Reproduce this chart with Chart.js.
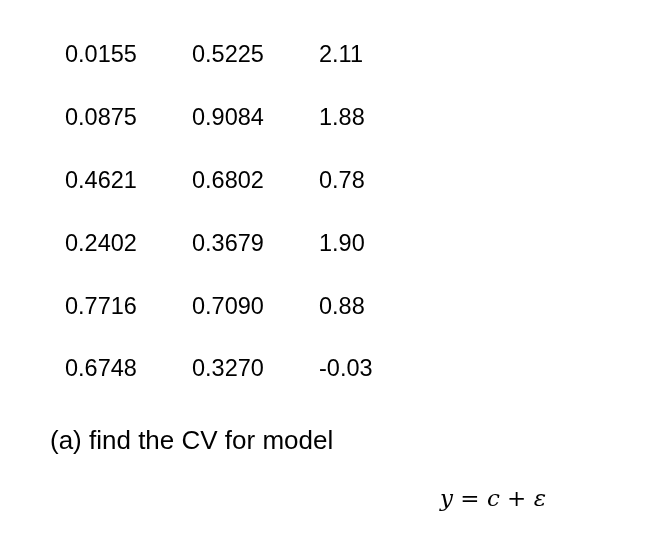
<!DOCTYPE html>
<html><head><meta charset="utf-8">
<script src="https://cdn.jsdelivr.net/npm/chart.js@4"></script>
<style>html,body{margin:0;padding:0;background:#fff}#wrap{width:645px;height:544px}</style>
</head><body><div id="wrap"><canvas id="c"></canvas></div>
<script>
// table values, one array per column
const COL_A = ['0.0155', '0.0875', '0.4621', '0.2402', '0.7716', '0.6748'];
const COL_B = ['0.5225', '0.9084', '0.6802', '0.3679', '0.7090', '0.3270'];
const COL_C = ['2.11', '1.88', '0.78', '1.90', '0.88', '-0.03'];
const COLUMNS = [COL_A, COL_B, COL_C];
const CAPTION = '(a) find the CV for model';
const FORMULA = 'y = c + ε';

const cells = [];
COLUMNS.forEach((col, ci) => col.forEach((v, ri) => cells.push({ x: ci, y: ri, label: v })));

// ── draw cell text at scale positions ──
const cellText = {
  id: 'cellText',
  afterDatasetsDraw(chart) {
    const { ctx, scales: { x, y } } = chart;
    ctx.save();
    ctx.fillStyle = '#000';
    ctx.font = '23.5px "Liberation Sans", Arial, sans-serif';
    ctx.textBaseline = 'middle';
    ctx.textAlign = 'left';
    cells.forEach(c => ctx.fillText(c.label, x.getPixelForValue(c.x), y.getPixelForValue(c.y)));
    ctx.font = '26px "Liberation Sans", Arial, sans-serif';
    ctx.fillText(CAPTION, 50, 442);
    ctx.font = 'italic 23px "DejaVu Serif", "Liberation Serif", serif';
    ctx.fillText(FORMULA, 440, 500);
    ctx.restore();
  }
};

new Chart(document.getElementById('c'), {
  type: 'scatter',
  data: { datasets: [{ data: cells, pointRadius: 0 }] },
  options: {
    responsive: true, maintainAspectRatio: false, animation: false,
    layout: { padding: 0 },
    plugins: { legend: { display: false }, tooltip: { enabled: false } },
    scales: {
      x: { display: false, min: -65 / 127, max: -65 / 127 + 645 / 127 },
      y: { display: false, reverse: true, min: -56 / 62.8, max: -56 / 62.8 + 544 / 62.8 },
    },
  },
  plugins: [cellText],
});
</script></body></html>
